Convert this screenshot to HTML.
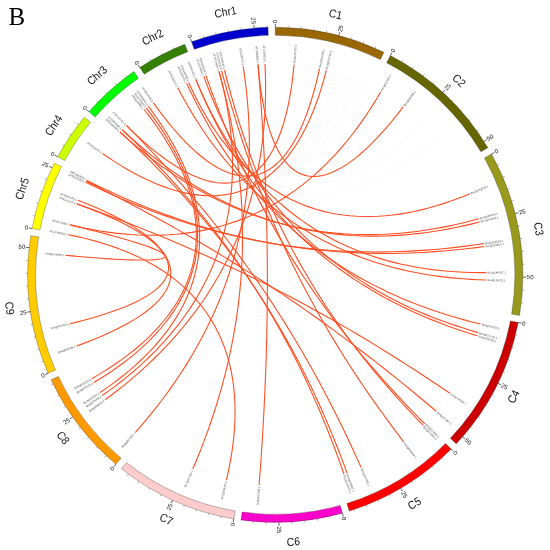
<!DOCTYPE html>
<html lang="en"><head><meta charset="utf-8"><title>Circos synteny B</title>
<style>html,body{margin:0;padding:0;background:#fff}svg{display:block}</style></head>
<body>
<svg width="550" height="550" viewBox="0 0 550 550">
<rect width="550" height="550" fill="#fff"/>
<g fill="none" stroke="#f3f3f3" stroke-width="0.5">
<path d="M335.23 72.49L332.16 82.36L328.82 92.12L325.2 101.7L321.3 111.02L317.12 120L312.67 128.57L307.94 136.67L302.93 144.25L297.67 151.24L292.14 157.61L286.36 163.31L280.33 168.32L274.08 172.59L267.6 176.12L260.92 178.87L254.04 180.84L246.98 182.02L239.76 182.42L232.4 182.02L224.91 180.86L217.32 178.93L209.65 176.27L201.92 172.91L194.15 168.86L186.38 164.18L178.62 158.9L170.91 153.09L163.27 146.78L155.74 140.05L148.35 132.96L141.13 125.58L134.11 118"/>
<path d="M340.5 74.13L337.22 83.82L333.69 93.4L329.91 102.78L325.9 111.86L321.65 120.58L317.17 128.86L312.46 136.64L307.54 143.86L302.4 150.46L297.07 156.4L291.54 161.63L285.84 166.12L279.96 169.85L273.93 172.79L267.75 174.91L261.45 176.22L255.02 176.7L248.5 176.36L241.89 175.2L235.22 173.24L228.49 170.49L221.74 166.98L214.97 162.74L208.22 157.81L201.5 152.24L194.83 146.06L188.24 139.33L181.75 132.12L175.39 124.5L169.17 116.53L163.14 108.29L157.31 99.87"/>
<path d="M345.73 75.9L342.01 85.93L337.97 95.89L333.58 105.7L328.85 115.31L323.78 124.64L318.37 133.65L312.61 142.27L306.52 150.46L300.08 158.18L293.32 165.38L286.23 172.04L278.82 178.11L271.11 183.58L263.11 188.42L254.83 192.61L246.28 196.14L237.49 199.01L228.47 201.2L219.24 202.72L209.83 203.57L200.25 203.76L190.54 203.3L180.72 202.22L170.81 200.53L160.85 198.26L150.88 195.44L140.91 192.11L131 188.3L121.17 184.07L111.46 179.45L101.91 174.51L92.57 169.3"/>
<path d="M350.92 77.81L347.16 87.27L343.19 96.59L339.01 105.68L334.63 114.46L330.06 122.86L325.32 130.79L320.42 138.19L315.36 145L310.16 151.16L304.83 156.64L299.39 161.38L293.84 165.36L288.2 168.54L282.48 170.9L276.69 172.42L270.86 173.1L264.99 172.93L259.09 171.92L253.19 170.07L247.29 167.39L241.42 163.91L235.58 159.66L229.8 154.67L224.08 148.98L218.45 142.64L212.91 135.69L207.5 128.21L202.22 120.24L197.1 111.88L192.14 103.18L187.37 94.25L182.8 85.15"/>
<path d="M356.05 79.86L352.09 89.14L347.96 98.27L343.67 107.17L339.23 115.74L334.67 123.9L329.99 131.58L325.22 138.71L320.36 145.23L315.44 151.09L310.47 156.23L305.46 160.61L300.43 164.2L295.38 166.96L290.34 168.89L285.32 169.95L280.33 170.15L275.37 169.48L270.48 167.93L265.64 165.54L260.89 162.3L256.22 158.24L251.66 153.4L247.2 147.81L242.86 141.51L238.65 134.56L234.59 127L230.67 118.91L226.91 110.34L223.31 101.39L219.89 92.12L216.66 82.63L213.61 73.02"/>
<path d="M361.12 82.04L356.66 91.67L351.89 101.19L346.81 110.54L341.42 119.63L335.72 128.4L329.72 136.8L323.42 144.77L316.84 152.25L309.98 159.22L302.84 165.61L295.45 171.4L287.81 176.57L279.93 181.07L271.84 184.89L263.54 188.01L255.04 190.43L246.38 192.13L237.57 193.12L228.62 193.39L219.56 192.95L210.4 191.82L201.19 190.02L191.93 187.56L182.65 184.47L173.39 180.79L164.16 176.55L155 171.79L145.94 166.56L137.01 160.9L128.24 154.89L119.67 148.57L111.32 142.01"/>
<path d="M337.69 73.24L334.34 83.54L330.64 93.79L326.59 103.94L322.18 113.92L317.4 123.67L312.25 133.14L306.73 142.28L300.83 151.05L294.56 159.4L287.91 167.29L280.9 174.7L273.54 181.59L265.82 187.94L257.76 193.72L249.38 198.91L240.68 203.51L231.69 207.5L222.43 210.88L212.9 213.63L203.14 215.77L193.17 217.3L183.01 218.23L172.7 218.56L162.26 218.33L151.72 217.55L141.12 216.23L130.5 214.42L119.88 212.15L109.31 209.45L98.83 206.35L88.48 202.92L78.31 199.18"/>
<path d="M348.5 76.91L344.95 86.27L341.25 95.49L337.42 104.48L333.48 113.14L329.45 121.39L325.34 129.16L321.16 136.37L316.94 142.95L312.68 148.86L308.41 154.04L304.12 158.45L299.85 162.06L295.59 164.82L291.37 166.73L287.18 167.76L283.06 167.91L278.99 167.17L275 165.54L271.1 163.05L267.28 159.69L263.57 155.51L259.97 150.53L256.49 144.78L253.13 138.32L249.9 131.2L246.81 123.46L243.86 115.18L241.06 106.44L238.42 97.3L235.93 87.85L233.6 78.19L231.43 68.41"/>
<path d="M358.42 80.86L354.21 90.34L349.72 99.69L344.96 108.83L339.95 117.68L334.68 126.17L329.18 134.24L323.43 141.81L317.47 148.84L311.28 155.28L304.9 161.08L298.33 166.2L291.58 170.61L284.66 174.28L277.6 177.2L270.4 179.33L263.08 180.69L255.66 181.25L248.15 181.02L240.57 180.01L232.95 178.22L225.29 175.68L217.63 172.41L209.98 168.44L202.36 163.79L194.79 158.52L187.31 152.66L179.92 146.28L172.66 139.41L165.55 132.13L158.62 124.51L151.89 116.62L145.4 108.53"/>
<path d="M364.47 83.57L360.07 92.74L355.45 101.76L350.65 110.54L345.67 118.99L340.53 127.05L335.25 134.63L329.84 141.67L324.32 148.11L318.7 153.9L313 158.99L307.24 163.34L301.43 166.92L295.58 169.7L289.71 171.65L283.83 172.77L277.96 173.04L272.12 172.46L266.31 171.04L260.55 168.78L254.85 165.7L249.24 161.82L243.71 157.17L238.29 151.79L232.98 145.71L227.8 138.99L222.77 131.68L217.89 123.83L213.18 115.52L208.65 106.82L204.31 97.8L200.18 88.55L196.26 79.16"/>
<path d="M421.87 123.02L414.67 130.3L407.3 137.36L399.8 144.13L392.2 150.53L384.56 156.51L376.9 161.99L369.26 166.91L361.67 171.24L354.17 174.92L346.77 177.92L339.51 180.2L332.41 181.74L325.5 182.52L318.79 182.51L312.3 181.71L306.06 180.12L300.08 177.74L294.36 174.57L288.93 170.64L283.79 165.94L278.96 160.53L274.42 154.41L270.2 147.64L266.29 140.25L262.7 132.29L259.41 123.81L256.44 114.88L253.76 105.55L251.39 95.91L249.3 86.02L247.48 75.97L245.93 65.85"/>
<path d="M436.94 139.17L428.63 145.93L420.08 152.46L411.31 158.7L402.35 164.59L393.23 170.07L383.98 175.09L374.62 179.61L365.19 183.59L355.7 186.99L346.19 189.78L336.67 191.94L327.17 193.43L317.71 194.25L308.32 194.39L299.01 193.83L289.8 192.56L280.72 190.6L271.78 187.95L263 184.61L254.39 180.6L245.97 175.94L237.77 170.66L229.78 164.78L222.03 158.34L214.52 151.38L207.28 143.93L200.3 136.05L193.61 127.78L187.2 119.18L181.09 110.32L175.29 101.26L169.8 92.07"/>
</g>
<g fill="none" stroke="#ff4e22" stroke-width="1.1" stroke-linecap="butt" stroke-linejoin="round">
<path d="M294.06 64.64L293.4 71.41 292.63 78.17 291.74 84.89 290.73 91.54 289.59 98.1 288.32 104.54 286.92 110.85 285.38 116.99 283.69 122.95 281.87 128.71 279.9 134.26 277.79 139.56 275.53 144.62 273.12 149.41 270.57 153.93 267.87 158.15 265.02 162.07 262.02 165.67 258.88 168.96 255.6 171.91 252.18 174.53 248.62 176.81 244.93 178.74 241.1 180.33 237.15 181.56 233.07 182.44 228.88 182.97 224.58 183.15 220.16 182.98 215.65 182.46 211.04 181.61 206.34 180.42 201.56 178.91 196.71 177.08 191.79 174.93 186.82 172.5 181.8 169.77 176.74 166.77 171.65 163.51 166.54 160.01 161.43 156.27 156.31 152.33 151.22 148.19 146.14 143.88 141.11 139.42 136.12 134.82 131.2 130.12 126.36 125.34"/>
<path d="M319.53 68.49L318.06 75.11 316.48 81.71 314.79 88.24 313 94.69 311.1 101.03 309.09 107.24 306.97 113.29 304.74 119.16 302.4 124.83 299.95 130.27 297.39 135.48 294.72 140.43 291.94 145.11 289.06 149.51 286.07 153.6 282.98 157.38 279.79 160.83 276.5 163.96 273.11 166.73 269.63 169.16 266.06 171.24 262.41 172.95 258.66 174.29 254.84 175.27 250.95 175.88 246.98 176.12 242.94 175.99 238.84 175.49 234.69 174.63 230.48 173.41 226.22 171.84 221.93 169.93 217.6 167.67 213.24 165.09 208.86 162.19 204.46 158.98 200.05 155.49 195.65 151.71 191.25 147.67 186.86 143.39 182.5 138.87 178.16 134.15 173.87 129.24 169.62 124.16 165.43 118.94 161.3 113.6 157.25 108.16 153.28 102.66"/>
<path d="M326.35 70.07L324.59 76.84 322.7 83.59 320.66 90.31 318.48 96.96 316.16 103.52 313.69 109.98 311.07 116.31 308.29 122.5 305.37 128.52 302.29 134.36 299.06 140 295.67 145.44 292.14 150.65 288.45 155.62 284.61 160.34 280.62 164.79 276.49 168.98 272.21 172.88 267.78 176.49 263.22 179.81 258.52 182.83 253.69 185.53 248.74 187.93 243.65 190 238.45 191.76 233.14 193.2 227.72 194.32 222.2 195.12 216.58 195.6 210.87 195.77 205.08 195.63 199.21 195.17 193.28 194.42 187.28 193.37 181.24 192.03 175.16 190.41 169.04 188.53 162.9 186.38 156.75 183.98 150.59 181.35 144.45 178.49 138.32 175.43 132.22 172.17 126.16 168.73 120.16 165.13 114.23 161.39 108.37 157.53 102.61 153.56"/>
<path d="M380.64 91.98L376.84 98.44 372.88 104.89 368.78 111.29 364.53 117.64 360.13 123.92 355.59 130.12 350.89 136.23 346.05 142.23 341.06 148.11 335.93 153.86 330.65 159.47 325.23 164.93 319.67 170.23 313.97 175.36 308.14 180.32 302.17 185.09 296.08 189.67 289.85 194.05 283.51 198.23 277.04 202.2 270.46 205.95 263.77 209.49 256.97 212.8 250.07 215.89 243.07 218.75 235.98 221.39 228.8 223.79 221.55 225.96 214.21 227.91 206.81 229.62 199.34 231.1 191.82 232.35 184.25 233.37 176.64 234.18 169 234.76 161.32 235.13 153.63 235.28 145.93 235.23 138.22 234.98 130.53 234.53 122.84 233.9 115.18 233.09 107.56 232.1 99.98 230.95 92.45 229.64 84.98 228.19 77.59 226.61 70.29 224.9"/>
<path d="M403.16 106.96L399.04 112.29 394.84 117.56 390.59 122.73 386.29 127.77 381.95 132.68 377.58 137.41 373.2 141.95 368.81 146.29 364.42 150.39 360.05 154.25 355.69 157.84 351.37 161.15 347.09 164.17 342.85 166.89 338.66 169.28 334.54 171.34 330.48 173.07 326.5 174.45 322.59 175.47 318.77 176.14 315.04 176.44 311.41 176.38 307.87 175.95 304.44 175.14 301.12 173.97 297.91 172.43 294.81 170.53 291.83 168.26 288.97 165.64 286.24 162.68 283.62 159.37 281.13 155.73 278.77 151.77 276.54 147.49 274.43 142.93 272.44 138.07 270.59 132.95 268.86 127.58 267.25 121.98 265.76 116.16 264.4 110.14 263.16 103.95 262.03 97.61 261.01 91.14 260.11 84.57 259.31 77.92 258.61 71.23 258.01 64.51"/>
<path d="M470.1 193.71L463.34 196.45 456.5 199.06 449.57 201.55 442.56 203.88 435.5 206.05 428.4 208.05 421.25 209.86 414.08 211.48 406.89 212.89 399.69 214.09 392.49 215.06 385.31 215.8 378.15 216.31 371.01 216.56 363.92 216.57 356.87 216.32 349.87 215.81 342.93 215.03 336.07 213.99 329.28 212.69 322.57 211.11 315.94 209.26 309.42 207.14 302.99 204.76 296.67 202.1 290.46 199.18 284.36 196 278.39 192.57 272.54 188.88 266.82 184.94 261.23 180.76 255.77 176.35 250.46 171.72 245.28 166.86 240.25 161.79 235.37 156.53 230.63 151.08 226.05 145.45 221.61 139.65 217.33 133.71 213.21 127.62 209.23 121.41 205.41 115.09 201.74 108.68 198.23 102.19 194.87 95.64 191.66 89.05 188.6 82.43"/>
<path d="M478.72 218.77L471.23 220.77 463.64 222.67 455.97 224.46 448.23 226.13 440.42 227.66 432.54 229.07 424.61 230.33 416.63 231.44 408.61 232.39 400.55 233.18 392.47 233.81 384.36 234.27 376.23 234.54 368.09 234.64 359.94 234.56 351.8 234.29 343.66 233.83 335.53 233.17 327.42 232.33 319.34 231.29 311.27 230.06 303.25 228.63 295.25 227 287.3 225.18 279.4 223.17 271.55 220.96 263.76 218.56 256.02 215.97 248.35 213.2 240.75 210.24 233.23 207.11 225.78 203.8 218.41 200.32 211.13 196.67 203.93 192.86 196.83 188.9 189.83 184.79 182.92 180.53 176.12 176.15 169.42 171.63 162.83 167 156.35 162.25 149.99 157.4 143.74 152.46 137.62 147.44 131.61 142.34 125.73 137.19 119.98 131.98"/>
<path d="M479.58 221.97L472.05 223.86 464.44 225.64 456.74 227.3 448.97 228.85 441.13 230.27 433.23 231.54 425.28 232.68 417.29 233.67 409.25 234.5 401.18 235.16 393.09 235.66 384.97 235.99 376.84 236.14 368.69 236.12 360.55 235.91 352.41 235.51 344.28 234.92 336.16 234.15 328.06 233.18 319.99 232.01 311.95 230.65 303.94 229.1 295.97 227.35 288.05 225.41 280.18 223.28 272.36 220.95 264.6 218.43 256.91 215.73 249.28 212.84 241.72 209.77 234.24 206.52 226.84 203.09 219.53 199.5 212.3 195.74 205.16 191.83 198.12 187.76 191.18 183.54 184.33 179.18 177.6 174.69 170.96 170.08 164.44 165.34 158.04 160.5 151.75 155.56 145.57 150.53 139.52 145.41 133.6 140.23 127.79 134.98 122.12 129.69"/>
<path d="M483.98 243.61L475.9 244.78 467.75 245.88 459.54 246.89 451.28 247.83 442.96 248.68 434.6 249.44 426.19 250.1 417.73 250.67 409.25 251.14 400.73 251.5 392.17 251.76 383.6 251.91 375 251.95 366.38 251.88 357.75 251.7 349.1 251.39 340.45 250.97 331.79 250.43 323.13 249.77 314.48 248.99 305.83 248.09 297.18 247.07 288.55 245.93 279.94 244.67 271.34 243.28 262.77 241.78 254.22 240.15 245.7 238.41 237.21 236.55 228.75 234.57 220.33 232.48 211.95 230.28 203.62 227.97 195.33 225.56 187.09 223.03 178.9 220.41 170.76 217.68 162.69 214.87 154.67 211.96 146.71 208.96 138.83 205.87 131 202.71 123.25 199.47 115.58 196.16 107.98 192.78 100.45 189.34 93.01 185.85 85.65 182.3"/>
<path d="M484.4 246.53L476.29 247.58 468.13 248.57 459.9 249.47 451.62 250.29 443.29 251.03 434.92 251.67 426.49 252.22 418.03 252.68 409.54 253.03 401.01 253.29 392.45 253.43 383.87 253.47 375.27 253.4 366.65 253.21 358.02 252.91 349.38 252.5 340.73 251.97 332.07 251.32 323.42 250.55 314.77 249.66 306.13 248.65 297.5 247.52 288.88 246.27 280.28 244.9 271.7 243.41 263.14 241.8 254.6 240.07 246.1 238.23 237.63 236.27 229.2 234.19 220.8 232 212.44 229.71 204.13 227.3 195.87 224.79 187.65 222.17 179.49 219.45 171.39 216.64 163.34 213.73 155.35 210.73 147.43 207.64 139.57 204.47 131.78 201.22 124.06 197.89 116.42 194.5 108.85 191.04 101.37 187.52 93.96 183.95 86.63 180.32"/>
<path d="M486.29 272.59L478.7 272.6 471.06 272.48 463.37 272.22 455.64 271.81 447.9 271.23 440.13 270.5 432.37 269.6 424.62 268.52 416.88 267.26 409.16 265.82 401.49 264.19 393.85 262.37 386.27 260.35 378.75 258.14 371.3 255.73 363.93 253.12 356.63 250.31 349.43 247.3 342.32 244.08 335.32 240.66 328.42 237.04 321.64 233.23 314.97 229.21 308.43 225 302.02 220.59 295.74 216 289.6 211.22 283.6 206.25 277.74 201.11 272.02 195.8 266.46 190.32 261.05 184.68 255.79 178.89 250.69 172.94 245.74 166.86 240.96 160.65 236.33 154.31 231.86 147.86 227.55 141.3 223.4 134.65 219.41 127.92 215.58 121.11 211.9 114.23 208.38 107.31 205.01 100.34 201.8 93.35 198.73 86.35 195.81 79.34"/>
<path d="M486.24 279.96L478.53 279.71 470.77 279.33 462.97 278.81 455.13 278.16 447.26 277.35 439.38 276.4 431.49 275.28 423.6 274 415.72 272.56 407.86 270.94 400.02 269.15 392.22 267.19 384.46 265.04 376.74 262.71 369.09 260.2 361.49 257.51 353.96 254.62 346.51 251.56 339.14 248.3 331.85 244.86 324.66 241.24 317.56 237.43 310.56 233.44 303.67 229.27 296.89 224.92 290.23 220.4 283.68 215.71 277.26 210.84 270.96 205.82 264.79 200.63 258.76 195.29 252.85 189.81 247.09 184.17 241.46 178.41 235.97 172.51 230.62 166.49 225.42 160.35 220.36 154.1 215.45 147.76 210.68 141.32 206.06 134.8 201.58 128.21 197.25 121.55 193.06 114.84 189.02 108.09 185.12 101.31 181.36 94.51 177.74 87.71"/>
<path d="M480.47 324.06L472.83 322.17 465.17 320.15 457.48 318.01 449.77 315.73 442.06 313.32 434.36 310.77 426.66 308.08 418.99 305.25 411.34 302.27 403.73 299.14 396.15 295.86 388.63 292.43 381.16 288.85 373.74 285.12 366.4 281.24 359.13 277.21 351.94 273.02 344.82 268.68 337.8 264.19 330.87 259.55 324.04 254.77 317.32 249.83 310.69 244.76 304.18 239.54 297.78 234.18 291.5 228.69 285.34 223.06 279.3 217.31 273.39 211.43 267.61 205.43 261.95 199.32 256.43 193.09 251.04 186.75 245.79 180.32 240.67 173.79 235.69 167.17 230.85 160.46 226.14 153.68 221.57 146.84 217.15 139.92 212.86 132.96 208.7 125.94 204.68 118.89 200.8 111.81 197.05 104.7 193.44 97.59 189.95 90.47 186.6 83.35"/>
<path d="M478.23 332.61L470.72 330.41 463.19 328.08 455.64 325.62 448.09 323.02 440.54 320.28 433 317.4 425.49 314.38 418 311.2 410.55 307.88 403.15 304.41 395.8 300.78 388.51 297.01 381.29 293.07 374.14 288.99 367.07 284.75 360.09 280.36 353.2 275.81 346.4 271.11 339.71 266.26 333.13 261.27 326.66 256.12 320.31 250.83 314.07 245.39 307.97 239.82 301.99 234.11 296.14 228.26 290.43 222.28 284.85 216.18 279.41 209.95 274.12 203.61 268.97 197.16 263.96 190.59 259.1 183.93 254.39 177.16 249.82 170.31 245.41 163.37 241.14 156.36 237.02 149.27 233.05 142.12 229.23 134.92 225.55 127.67 222.02 120.38 218.63 113.06 215.38 105.71 212.27 98.35 209.3 90.99 206.46 83.64 203.76 76.3"/>
<path d="M477.29 335.79L469.77 333.46 462.22 331 454.66 328.42 447.09 325.71 439.52 322.86 431.96 319.87 424.42 316.74 416.91 313.48 409.43 310.07 401.99 306.51 394.6 302.81 387.27 298.96 380 294.97 372.79 290.83 365.66 286.54 358.61 282.11 351.64 277.52 344.77 272.8 337.98 267.93 331.3 262.91 324.73 257.76 318.26 252.47 311.9 247.04 305.66 241.47 299.54 235.78 293.55 229.95 287.68 224 281.93 217.93 276.32 211.75 270.84 205.45 265.5 199.04 260.29 192.53 255.22 185.92 250.28 179.22 245.49 172.43 240.84 165.56 236.33 158.62 231.96 151.6 227.73 144.53 223.64 137.4 219.69 130.22 215.87 123 212.2 115.76 208.66 108.49 205.25 101.2 201.98 93.91 198.83 86.62 195.81 79.34"/>
<path d="M449.92 393.25L442.85 388.47 435.74 383.71 428.58 378.97 421.38 374.24 414.14 369.54 406.86 364.85 399.54 360.19 392.17 355.56 384.77 350.95 377.33 346.37 369.85 341.82 362.33 337.31 354.78 332.83 347.19 328.38 339.56 323.97 331.91 319.6 324.22 315.26 316.49 310.97 308.74 306.72 300.96 302.51 293.15 298.34 285.31 294.22 277.45 290.14 269.56 286.11 261.65 282.12 253.72 278.19 245.76 274.3 237.79 270.45 229.79 266.66 221.78 262.91 213.76 259.21 205.72 255.57 197.67 251.97 189.61 248.42 181.54 244.92 173.46 241.47 165.38 238.07 157.29 234.72 149.2 231.42 141.11 228.16 133.03 224.95 124.94 221.8 116.86 218.68 108.79 215.62 100.72 212.6 92.67 209.63 84.63 206.7 76.6 203.81"/>
<path d="M436.22 411.27L429.7 405.76 423.13 400.26 416.52 394.77 409.87 389.29 403.18 383.83 396.44 378.38 389.66 372.96 382.84 367.55 375.97 362.16 369.07 356.8 362.13 351.46 355.14 346.16 348.12 340.87 341.06 335.62 333.97 330.4 326.84 325.22 319.67 320.06 312.47 314.95 305.23 309.86 297.96 304.82 290.66 299.81 283.33 294.85 275.97 289.92 268.57 285.04 261.16 280.2 253.71 275.4 246.24 270.64 238.75 265.93 231.23 261.26 223.7 256.63 216.14 252.06 208.56 247.53 200.97 243.04 193.36 238.6 185.74 234.21 178.1 229.86 170.46 225.56 162.8 221.31 155.14 217.1 147.47 212.94 139.8 208.83 132.13 204.76 124.45 200.74 116.78 196.77 109.11 192.84 101.44 188.95 93.79 185.11 86.14 181.31"/>
<path d="M424.76 423.74L418.89 417.84 413.03 411.87 407.18 405.82 401.36 399.7 395.56 393.5 389.8 387.23 384.06 380.88 378.36 374.46 372.71 367.97 367.09 361.4 361.52 354.77 356.01 348.06 350.54 341.29 345.13 334.45 339.78 327.54 334.49 320.57 329.26 313.54 324.1 306.44 319.01 299.28 313.99 292.07 309.03 284.79 304.16 277.47 299.35 270.09 294.63 262.65 289.98 255.17 285.41 247.64 280.92 240.07 276.52 232.45 272.19 224.8 267.95 217.1 263.8 209.38 259.72 201.62 255.74 193.83 251.83 186.01 248.01 178.17 244.28 170.31 240.63 162.43 237.07 154.53 233.59 146.63 230.19 138.71 226.88 130.8 223.65 122.88 220.49 114.96 217.42 107.05 214.43 99.15 211.51 91.26 208.67 83.39 205.91 75.54"/>
<path d="M423.19 425.3L417.44 419.4 411.71 413.41 406 407.33 400.32 401.17 394.68 394.93 389.07 388.6 383.5 382.19 377.98 375.69 372.51 369.12 367.09 362.46 361.73 355.72 356.44 348.91 351.21 342.02 346.05 335.05 340.96 328.01 335.95 320.9 331.01 313.71 326.16 306.46 321.39 299.14 316.7 291.76 312.1 284.31 307.6 276.81 303.18 269.25 298.86 261.63 294.63 253.95 290.5 246.23 286.46 238.46 282.53 230.65 278.69 222.79 274.95 214.89 271.31 206.96 267.78 199 264.34 191 261.01 182.98 257.77 174.94 254.64 166.87 251.61 158.79 248.67 150.7 245.83 142.6 243.09 134.5 240.45 126.39 237.9 118.29 235.45 110.2 233.08 102.12 230.81 94.05 228.62 86.01 226.52 77.99 224.5 70.01"/>
<path d="M403.89 442.09L398.81 435.43 393.74 428.7 388.7 421.91 383.69 415.05 378.7 408.13 373.75 401.15 368.83 394.1 363.96 387 359.12 379.83 354.33 372.6 349.59 365.32 344.9 357.98 340.26 350.58 335.68 343.13 331.15 335.62 326.69 328.07 322.28 320.46 317.94 312.8 313.67 305.1 309.46 297.36 305.32 289.57 301.25 281.74 297.25 273.86 293.32 265.95 289.47 258.01 285.68 250.03 281.98 242.02 278.35 233.98 274.79 225.91 271.32 217.82 267.92 209.7 264.59 201.57 261.35 193.41 258.18 185.24 255.09 177.06 252.07 168.86 249.13 160.66 246.27 152.45 243.48 144.25 240.77 136.04 238.13 127.83 235.56 119.63 233.06 111.44 230.64 103.27 228.28 95.1 225.99 86.96 223.77 78.84 221.61 70.74"/>
<path d="M361.12 467.56L357.68 459.88 354.17 452.19 350.6 444.49 346.96 436.78 343.26 429.07 339.5 421.36 335.66 413.64 331.76 405.93 327.8 398.23 323.76 390.54 319.66 382.86 315.48 375.19 311.24 367.54 306.93 359.91 302.55 352.3 298.11 344.72 293.59 337.16 289.01 329.64 284.37 322.14 279.65 314.68 274.87 307.25 270.03 299.86 265.12 292.51 260.15 285.19 255.12 277.92 250.02 270.7 244.87 263.52 239.66 256.38 234.4 249.3 229.08 242.26 223.7 235.28 218.28 228.35 212.8 221.47 207.28 214.65 201.72 207.88 196.11 201.17 190.46 194.52 184.77 187.92 179.04 181.39 173.29 174.91 167.5 168.5 161.68 162.15 155.84 155.86 149.98 149.63 144.09 143.46 138.19 137.36 132.28 131.32 126.36 125.34"/>
<path d="M347.12 473.2L344.27 465.41 341.34 457.61 338.32 449.78 335.23 441.94 332.05 434.1 328.79 426.25 325.45 418.4 322.02 410.55 318.5 402.71 314.89 394.88 311.19 387.07 307.41 379.27 303.54 371.5 299.57 363.75 295.52 356.02 291.38 348.33 287.15 340.67 282.83 333.05 278.43 325.47 273.93 317.93 269.36 310.43 264.69 302.98 259.94 295.59 255.11 288.24 250.2 280.95 245.2 273.71 240.13 266.53 234.98 259.42 229.76 252.36 224.47 245.37 219.1 238.45 213.67 231.59 208.17 224.8 202.61 218.08 196.99 211.43 191.31 204.86 185.58 198.36 179.8 191.94 173.97 185.59 168.09 179.32 162.18 173.12 156.23 167.01 150.24 160.97 144.23 155.01 138.19 149.13 132.14 143.33 126.07 137.62 119.98 131.98"/>
<path d="M343.99 474.3L341.26 466.47 338.46 458.62 335.57 450.75 332.6 442.87 329.54 434.97 326.41 427.08 323.18 419.17 319.88 411.28 316.48 403.38 312.99 395.5 309.42 387.63 305.76 379.78 302.01 371.94 298.16 364.13 294.23 356.35 290.21 348.59 286.1 340.87 281.9 333.18 277.61 325.53 273.24 317.93 268.77 310.36 264.22 302.84 259.59 295.37 254.87 287.95 250.07 280.59 245.19 273.28 240.23 266.02 235.19 258.83 230.07 251.7 224.88 244.63 219.62 237.62 214.3 230.68 208.9 223.81 203.44 217.01 197.92 210.28 192.34 203.62 186.71 197.04 181.03 190.53 175.29 184.09 169.51 177.73 163.69 171.45 157.83 165.25 151.94 159.12 146.02 153.08 140.07 147.11 134.1 141.22 128.12 135.42 122.12 129.69"/>
<path d="M259.11 485.18L259.76 476.58 260.39 467.95 261 459.31 261.59 450.65 262.15 441.97 262.68 433.27 263.19 424.56 263.68 415.83 264.13 407.08 264.56 398.33 264.96 389.56 265.33 380.78 265.67 371.98 265.99 363.18 266.27 354.37 266.52 345.55 266.74 336.73 266.92 327.89 267.08 319.06 267.2 310.22 267.29 301.37 267.35 292.52 267.38 283.67 267.37 274.82 267.33 265.97 267.26 257.12 267.15 248.27 267.02 239.43 266.85 230.59 266.65 221.75 266.41 212.92 266.15 204.09 265.85 195.28 265.52 186.47 265.17 177.67 264.78 168.88 264.36 160.1 263.91 151.33 263.44 142.58 262.94 133.84 262.41 125.11 261.85 116.4 261.27 107.7 260.66 99.03 260.03 90.37 259.38 81.73 258.71 73.11 258.01 64.51"/>
<path d="M226.4 480.06L228.01 473.01 229.48 465.89 230.81 458.71 231.97 451.5 232.97 444.26 233.78 437.01 234.41 429.76 234.83 422.52 235.05 415.31 235.04 408.13 234.82 401.01 234.36 393.94 233.67 386.95 232.73 380.04 231.55 373.21 230.12 366.49 228.44 359.87 226.5 353.38 224.31 347 221.86 340.76 219.16 334.65 216.2 328.69 212.98 322.88 209.51 317.23 205.79 311.74 201.83 306.41 197.62 301.26 193.17 296.27 188.5 291.47 183.59 286.84 178.47 282.4 173.14 278.14 167.6 274.06 161.88 270.17 155.96 266.47 149.88 262.95 143.63 259.62 137.23 256.48 130.7 253.52 124.04 250.74 117.27 248.14 110.41 245.71 103.47 243.46 96.46 241.39 89.41 239.47 82.33 237.72 75.23 236.13 68.15 234.68"/>
<path d="M192.86 469.03L195.98 461.56 199.04 454 202.04 446.36 204.96 438.64 207.8 430.85 210.56 422.98 213.23 415.04 215.81 407.03 218.28 398.96 220.66 390.83 222.93 382.65 225.08 374.41 227.13 366.12 229.05 357.78 230.86 349.4 232.54 340.97 234.1 332.52 235.53 324.03 236.83 315.5 238 306.96 239.04 298.38 239.95 289.79 240.71 281.19 241.35 272.57 241.85 263.94 242.21 255.31 242.44 246.67 242.53 238.04 242.49 229.41 242.32 220.79 242.01 212.19 241.57 203.6 241 195.03 240.31 186.48 239.49 177.97 238.55 169.48 237.49 161.03 236.31 152.61 235.02 144.24 233.62 135.92 232.12 127.64 230.51 119.42 228.8 111.26 227.01 103.16 225.12 95.13 223.15 87.16 221.1 79.27 218.98 71.45"/>
<path d="M135.21 432.59L140.41 426.65 145.56 420.6 150.66 414.43 155.7 408.14 160.66 401.74 165.55 395.23 170.35 388.62 175.05 381.89 179.66 375.06 184.15 368.14 188.53 361.11 192.78 353.99 196.91 346.77 200.91 339.47 204.77 332.08 208.48 324.6 212.05 317.05 215.47 309.42 218.74 301.71 221.84 293.94 224.79 286.1 227.57 278.2 230.19 270.24 232.65 262.23 234.93 254.17 237.04 246.06 238.99 237.91 240.77 229.73 242.37 221.51 243.8 213.27 245.07 205 246.17 196.72 247.1 188.43 247.87 180.12 248.47 171.82 248.91 163.52 249.2 155.23 249.33 146.95 249.31 138.69 249.15 130.46 248.84 122.26 248.4 114.1 247.82 105.98 247.12 97.91 246.3 89.9 245.36 81.95 244.31 74.07 243.17 66.26"/>
<path d="M105.25 399.71L111.49 395.06 117.7 390.27 123.88 385.35 130.02 380.3 136.1 375.11 142.11 369.79 148.05 364.34 153.9 358.77 159.66 353.06 165.32 347.22 170.88 341.26 176.31 335.18 181.63 328.98 186.81 322.65 191.86 316.21 196.77 309.65 201.53 302.98 206.14 296.2 210.59 289.31 214.88 282.33 219 275.24 222.96 268.05 226.75 260.78 230.36 253.41 233.8 245.97 237.06 238.44 240.14 230.84 243.03 223.16 245.75 215.43 248.29 207.63 250.64 199.78 252.82 191.88 254.81 183.93 256.63 175.95 258.27 167.94 259.73 159.9 261.02 151.85 262.15 143.78 263.1 135.71 263.9 127.63 264.53 119.57 265.02 111.53 265.35 103.51 265.54 95.52 265.6 87.57 265.52 79.67 265.31 71.83 264.99 64.05"/>
<path d="M102.25 395.52L108.4 391.15 114.53 386.63 120.6 381.96 126.61 377.16 132.55 372.21 138.4 367.12 144.15 361.89 149.78 356.52 155.3 351.02 160.67 345.38 165.91 339.61 170.99 333.71 175.91 327.69 180.66 321.54 185.24 315.26 189.62 308.87 193.82 302.37 197.82 295.75 201.62 289.03 205.2 282.2 208.58 275.28 211.74 268.25 214.68 261.14 217.4 253.94 219.9 246.67 222.17 239.31 224.21 231.89 226.03 224.4 227.62 216.85 228.98 209.25 230.12 201.6 231.03 193.92 231.73 186.2 232.21 178.45 232.47 170.68 232.52 162.9 232.37 155.12 232.01 147.34 231.47 139.56 230.73 131.81 229.81 124.08 228.72 116.39 227.46 108.74 226.04 101.14 224.47 93.6 222.77 86.14 220.94 78.75 218.98 71.45"/>
<path d="M100.17 392.48L106.12 388.4 112.02 384.17 117.85 379.8 123.59 375.3 129.23 370.66 134.73 365.89 140.09 361 145.3 355.97 150.33 350.83 155.18 345.57 159.83 340.19 164.26 334.7 168.47 329.11 172.45 323.41 176.19 317.61 179.67 311.72 182.89 305.73 185.84 299.67 188.52 293.52 190.92 287.29 193.03 281 194.86 274.63 196.4 268.21 197.64 261.73 198.58 255.21 199.24 248.64 199.59 242.03 199.65 235.38 199.42 228.72 198.9 222.03 198.1 215.33 197.01 208.62 195.65 201.92 194.02 195.22 192.12 188.53 189.98 181.86 187.58 175.23 184.95 168.62 182.09 162.07 179.02 155.56 175.74 149.11 172.28 142.72 168.64 136.42 164.83 130.19 160.88 124.06 156.8 118.02 152.61 112.1 148.32 106.29"/>
<path d="M93.87 382.52L100 378.8 106.08 374.94 112.09 370.94 118.02 366.8 123.84 362.53 129.53 358.12 135.09 353.58 140.48 348.91 145.7 344.11 150.73 339.2 155.56 334.16 160.18 329 164.56 323.74 168.71 318.36 172.61 312.88 176.25 307.3 179.63 301.62 182.73 295.85 185.55 289.99 188.08 284.05 190.33 278.03 192.27 271.93 193.92 265.77 195.26 259.54 196.3 253.25 197.04 246.92 197.47 240.53 197.61 234.11 197.44 227.65 196.97 221.16 196.21 214.66 195.16 208.13 193.83 201.6 192.22 195.07 190.34 188.55 188.2 182.04 185.8 175.55 183.17 169.09 180.3 162.66 177.21 156.28 173.91 149.96 170.42 143.69 166.74 137.5 162.91 131.38 158.92 125.35 154.8 119.42 150.57 113.59 146.24 107.87"/>
<path d="M91.65 378.7L97.84 375.12 103.97 371.4 110.05 367.55 116.03 363.55 121.91 359.42 127.66 355.15 133.27 350.75 138.72 346.23 143.99 341.57 149.08 336.79 153.96 331.9 158.62 326.88 163.06 321.75 167.25 316.52 171.19 311.17 174.87 305.72 178.28 300.17 181.41 294.53 184.25 288.8 186.81 282.98 189.07 277.09 191.03 271.11 192.69 265.07 194.04 258.96 195.08 252.79 195.81 246.57 196.24 240.29 196.36 233.98 196.18 227.63 195.69 221.25 194.91 214.84 193.83 208.42 192.47 201.99 190.83 195.56 188.91 189.13 186.73 182.71 184.29 176.31 181.6 169.94 178.69 163.6 175.54 157.31 172.19 151.06 168.65 144.88 164.92 138.77 161.02 132.73 156.98 126.78 152.8 120.92 148.51 115.17 144.12 109.53"/>
<path d="M76.65 345.93L82.97 343.61 89.25 341.22 95.45 338.74 101.55 336.18 107.52 333.54 113.34 330.84 118.98 328.06 124.43 325.23 129.65 322.33 134.62 319.37 139.34 316.36 143.78 313.29 147.93 310.19 151.77 307.03 155.29 303.84 158.47 300.61 161.31 297.35 163.79 294.06 165.91 290.74 167.66 287.41 169.03 284.05 170.02 280.68 170.63 277.3 170.85 273.92 170.69 270.53 170.14 267.14 169.2 263.75 167.89 260.37 166.2 257.01 164.13 253.65 161.71 250.32 158.92 247.01 155.8 243.73 152.33 240.48 148.55 237.26 144.45 234.08 140.07 230.95 135.4 227.86 130.47 224.82 125.3 221.83 119.91 218.9 114.32 216.03 108.54 213.22 102.62 210.49 96.56 207.83 90.4 205.24 84.16 202.74 77.88 200.32"/>
<path d="M70.04 323.7L76.54 322.11 82.99 320.45 89.38 318.72 95.67 316.91 101.84 315.04 107.85 313.1 113.69 311.09 119.33 309.02 124.75 306.89 129.93 304.7 134.85 302.44 139.48 300.14 143.82 297.78 147.85 295.36 151.55 292.9 154.92 290.39 157.93 287.84 160.58 285.25 162.86 282.61 164.77 279.94 166.29 277.24 167.43 274.51 168.17 271.75 168.52 268.96 168.48 266.15 168.04 263.33 167.21 260.49 165.99 257.63 164.39 254.77 162.4 251.91 160.05 249.04 157.33 246.17 154.26 243.31 150.85 240.46 147.11 237.63 143.05 234.81 138.7 232.01 134.06 229.23 129.15 226.49 123.99 223.78 118.61 221.1 113.03 218.47 107.26 215.88 101.34 213.35 95.28 210.87 89.12 208.45 82.88 206.1 76.6 203.81"/>
<path d="M65.2 255.31L71.77 255.91 78.31 256.48 84.78 257.03 91.16 257.54 97.42 258.02 103.53 258.45 109.47 258.84 115.21 259.18 120.72 259.47 125.99 259.71 130.99 259.89 135.71 260.01 140.12 260.07 144.22 260.07 147.98 260.01 151.4 259.88 154.45 259.68 157.14 259.41 159.45 259.08 161.37 258.68 162.89 258.2 164.02 257.66 164.75 257.05 165.07 256.37 164.99 255.63 164.5 254.81 163.61 253.94 162.32 252.99 160.63 251.99 158.56 250.92 156.11 249.8 153.28 248.62 150.09 247.38 146.55 246.09 142.68 244.76 138.49 243.38 133.99 241.97 129.2 240.51 124.14 239.02 118.83 237.5 113.29 235.96 107.55 234.4 101.63 232.82 95.56 231.23 89.36 229.64 83.06 228.05 76.69 226.47 70.29 224.9"/>
</g>
<path d="M275.3 27.2A247.6 247.6 0 0 1 383.88 52.28L380.37 59.47A239.6 239.6 0 0 0 275.3 35.2Z" fill="#996600" stroke="#222" stroke-opacity="0.6" stroke-width="0.5"/>
<path d="M390.37 55.56A247.6 247.6 0 0 1 487.82 147.76L480.96 151.86A239.6 239.6 0 0 0 386.65 62.65Z" fill="#666600" stroke="#222" stroke-opacity="0.6" stroke-width="0.5"/>
<path d="M491.46 154.05A247.6 247.6 0 0 1 519.55 315.39L511.66 314.08A239.6 239.6 0 0 0 484.48 157.95Z" fill="#99991E" stroke="#222" stroke-opacity="0.6" stroke-width="0.5"/>
<path d="M518.25 322.54A247.6 247.6 0 0 1 456.24 443.82L450.39 438.36A239.6 239.6 0 0 0 510.4 321Z" fill="#CC0000" stroke="#222" stroke-opacity="0.6" stroke-width="0.5"/>
<path d="M451.2 449.06A247.6 247.6 0 0 1 349.31 511.08L346.92 503.45A239.6 239.6 0 0 0 445.52 443.43Z" fill="#FF0000" stroke="#222" stroke-opacity="0.6" stroke-width="0.5"/>
<path d="M342.34 513.15A247.6 247.6 0 0 1 241.02 520.02L242.13 512.09A239.6 239.6 0 0 0 340.18 505.45Z" fill="#FF00CC" stroke="#222" stroke-opacity="0.6" stroke-width="0.5"/>
<path d="M233.83 518.9A247.6 247.6 0 0 1 121.53 468.87L126.5 462.59A239.6 239.6 0 0 0 235.17 511.02Z" fill="#FFCCCC" stroke="#222" stroke-opacity="0.6" stroke-width="0.5"/>
<path d="M115.9 464.27A247.6 247.6 0 0 1 51.09 379.85L58.33 376.46A239.6 239.6 0 0 0 121.05 458.15Z" fill="#FF9900" stroke="#222" stroke-opacity="0.6" stroke-width="0.5"/>
<path d="M48.1 373.22A247.6 247.6 0 0 1 30.8 235.73L38.7 236.99A239.6 239.6 0 0 0 55.44 370.04Z" fill="#FFCC00" stroke="#222" stroke-opacity="0.6" stroke-width="0.5"/>
<path d="M32.05 228.57A247.6 247.6 0 0 1 54.29 163.17L61.43 166.78A239.6 239.6 0 0 0 39.91 230.06Z" fill="#FFFF00" stroke="#222" stroke-opacity="0.6" stroke-width="0.5"/>
<path d="M57.66 156.73A247.6 247.6 0 0 1 84.33 117.21L90.5 122.3A239.6 239.6 0 0 0 64.7 160.55Z" fill="#CCFF00" stroke="#222" stroke-opacity="0.6" stroke-width="0.5"/>
<path d="M89.04 111.67A247.6 247.6 0 0 1 133.84 71.59L138.41 78.16A239.6 239.6 0 0 0 95.05 116.94Z" fill="#00FF00" stroke="#222" stroke-opacity="0.6" stroke-width="0.5"/>
<path d="M139.86 67.53A247.6 247.6 0 0 1 184.75 44.35L187.67 51.8A239.6 239.6 0 0 0 144.24 74.22Z" fill="#358000" stroke="#222" stroke-opacity="0.6" stroke-width="0.5"/>
<path d="M191.55 41.79A247.6 247.6 0 0 1 268.03 27.31L268.27 35.3A239.6 239.6 0 0 0 194.26 49.32Z" fill="#0000CC" stroke="#222" stroke-opacity="0.6" stroke-width="0.5"/>
<g stroke="#222" stroke-width="0.45">
<path d="M275.3 27.2L275.3 23.8" stroke-width="0.7"/>
<path d="M288.14 27.53L288.24 25.54" stroke-opacity="0.8"/>
<path d="M300.94 28.53L301.15 26.54" stroke-opacity="0.8"/>
<path d="M313.67 30.19L313.98 28.22" stroke-opacity="0.8"/>
<path d="M326.3 32.51L326.72 30.55" stroke-opacity="0.8"/>
<path d="M338.8 35.48L339.67 32.19" stroke-width="0.7"/>
<path d="M351.12 39.09L351.73 37.19" stroke-opacity="0.8"/>
<path d="M363.24 43.34L363.95 41.47" stroke-opacity="0.8"/>
<path d="M375.12 48.21L375.93 46.38" stroke-opacity="0.8"/>
<path d="M390.37 55.56L391.95 52.55" stroke-width="0.7"/>
<path d="M401.58 61.82L402.6 60.1" stroke-opacity="0.8"/>
<path d="M412.45 68.66L413.56 66.99" stroke-opacity="0.8"/>
<path d="M422.96 76.04L424.15 74.44" stroke-opacity="0.8"/>
<path d="M433.06 83.97L434.34 82.43" stroke-opacity="0.8"/>
<path d="M442.74 92.4L445.04 89.9" stroke-width="0.7"/>
<path d="M451.97 101.33L453.4 99.93" stroke-opacity="0.8"/>
<path d="M460.73 110.72L462.23 109.4" stroke-opacity="0.8"/>
<path d="M468.99 120.56L470.55 119.31" stroke-opacity="0.8"/>
<path d="M476.73 130.81L478.35 129.64" stroke-opacity="0.8"/>
<path d="M483.92 141.45L486.78 139.61" stroke-width="0.7"/>
<path d="M491.46 154.05L494.43 152.39" stroke-width="0.7"/>
<path d="M497.43 165.42L499.23 164.54" stroke-opacity="0.8"/>
<path d="M502.8 177.09L504.64 176.3" stroke-opacity="0.8"/>
<path d="M507.56 189.01L509.44 188.32" stroke-opacity="0.8"/>
<path d="M511.7 201.17L513.61 200.58" stroke-opacity="0.8"/>
<path d="M515.2 213.53L518.49 212.68" stroke-width="0.7"/>
<path d="M518.05 226.05L520.01 225.65" stroke-opacity="0.8"/>
<path d="M520.25 238.7L522.23 238.41" stroke-opacity="0.8"/>
<path d="M521.8 251.45L523.79 251.26" stroke-opacity="0.8"/>
<path d="M522.68 264.26L524.67 264.17" stroke-opacity="0.8"/>
<path d="M522.89 277.1L526.29 277.13" stroke-width="0.7"/>
<path d="M522.44 289.93L524.43 290.05" stroke-opacity="0.8"/>
<path d="M521.32 302.72L523.31 302.95" stroke-opacity="0.8"/>
<path d="M518.25 322.54L521.59 323.2" stroke-width="0.7"/>
<path d="M515.45 335.08L517.39 335.56" stroke-opacity="0.8"/>
<path d="M512 347.45L513.91 348.03" stroke-opacity="0.8"/>
<path d="M507.92 359.62L509.8 360.31" stroke-opacity="0.8"/>
<path d="M503.21 371.57L505.05 372.35" stroke-opacity="0.8"/>
<path d="M497.88 383.25L500.94 384.74" stroke-width="0.7"/>
<path d="M491.96 394.65L493.71 395.62" stroke-opacity="0.8"/>
<path d="M485.46 405.72L487.15 406.78" stroke-opacity="0.8"/>
<path d="M478.39 416.44L480.03 417.58" stroke-opacity="0.8"/>
<path d="M470.77 426.78L472.35 428.01" stroke-opacity="0.8"/>
<path d="M462.63 436.71L465.2 438.93" stroke-width="0.7"/>
<path d="M451.2 449.06L453.62 451.45" stroke-width="0.7"/>
<path d="M441.93 457.94L443.27 459.42" stroke-opacity="0.8"/>
<path d="M432.21 466.33L433.48 467.88" stroke-opacity="0.8"/>
<path d="M422.07 474.21L423.25 475.82" stroke-opacity="0.8"/>
<path d="M411.53 481.55L412.63 483.22" stroke-opacity="0.8"/>
<path d="M400.63 488.34L402.35 491.27" stroke-width="0.7"/>
<path d="M389.39 494.55L390.31 496.32" stroke-opacity="0.8"/>
<path d="M377.84 500.17L378.67 501.99" stroke-opacity="0.8"/>
<path d="M366.02 505.18L366.75 507.04" stroke-opacity="0.8"/>
<path d="M353.95 509.58L354.59 511.47" stroke-opacity="0.8"/>
<path d="M342.34 513.15L343.26 516.42" stroke-width="0.7"/>
<path d="M329.89 516.31L330.34 518.26" stroke-opacity="0.8"/>
<path d="M317.3 518.81L317.64 520.78" stroke-opacity="0.8"/>
<path d="M304.59 520.66L304.83 522.65" stroke-opacity="0.8"/>
<path d="M291.8 521.85L291.94 523.84" stroke-opacity="0.8"/>
<path d="M278.97 522.37L279.02 525.77" stroke-width="0.7"/>
<path d="M266.13 522.23L266.06 524.23" stroke-opacity="0.8"/>
<path d="M253.32 521.42L253.14 523.41" stroke-opacity="0.8"/>
<path d="M233.83 518.9L233.26 522.26" stroke-width="0.7"/>
<path d="M221.23 516.42L220.8 518.38" stroke-opacity="0.8"/>
<path d="M208.78 513.3L208.24 515.22" stroke-opacity="0.8"/>
<path d="M196.5 509.53L195.87 511.42" stroke-opacity="0.8"/>
<path d="M184.44 505.13L183.71 506.99" stroke-opacity="0.8"/>
<path d="M172.62 500.11L171.21 503.2" stroke-width="0.7"/>
<path d="M161.08 494.48L160.15 496.25" stroke-opacity="0.8"/>
<path d="M149.84 488.26L148.83 489.99" stroke-opacity="0.8"/>
<path d="M138.94 481.47L137.84 483.14" stroke-opacity="0.8"/>
<path d="M128.41 474.12L127.22 475.73" stroke-opacity="0.8"/>
<path d="M115.9 464.27L113.71 466.87" stroke-width="0.7"/>
<path d="M106.29 455.75L104.93 457.21" stroke-opacity="0.8"/>
<path d="M97.14 446.74L95.7 448.13" stroke-opacity="0.8"/>
<path d="M88.46 437.27L86.95 438.59" stroke-opacity="0.8"/>
<path d="M80.29 427.37L78.72 428.6" stroke-opacity="0.8"/>
<path d="M72.64 417.05L69.86 419.01" stroke-width="0.7"/>
<path d="M65.54 406.35L63.85 407.42" stroke-opacity="0.8"/>
<path d="M59 395.3L57.25 396.28" stroke-opacity="0.8"/>
<path d="M53.04 383.93L51.25 384.81" stroke-opacity="0.8"/>
<path d="M48.1 373.22L44.98 374.57" stroke-width="0.7"/>
<path d="M43.3 361.31L41.43 362.01" stroke-opacity="0.8"/>
<path d="M39.13 349.17L37.22 349.77" stroke-opacity="0.8"/>
<path d="M35.59 336.82L33.66 337.32" stroke-opacity="0.8"/>
<path d="M32.7 324.31L30.74 324.71" stroke-opacity="0.8"/>
<path d="M30.46 311.66L27.1 312.17" stroke-width="0.7"/>
<path d="M28.88 298.92L26.89 299.12" stroke-opacity="0.8"/>
<path d="M27.96 286.11L25.96 286.2" stroke-opacity="0.8"/>
<path d="M27.7 273.27L25.7 273.26" stroke-opacity="0.8"/>
<path d="M28.12 260.44L26.12 260.32" stroke-opacity="0.8"/>
<path d="M29.19 247.64L25.81 247.27" stroke-width="0.7"/>
<path d="M32.05 228.57L28.71 227.93" stroke-width="0.7"/>
<path d="M34.78 216.02L32.84 215.54" stroke-opacity="0.8"/>
<path d="M38.15 203.63L36.23 203.05" stroke-opacity="0.8"/>
<path d="M42.16 191.43L40.28 190.75" stroke-opacity="0.8"/>
<path d="M46.79 179.45L44.95 178.68" stroke-opacity="0.8"/>
<path d="M52.05 167.73L48.98 166.26" stroke-width="0.7"/>
<path d="M57.66 156.73L54.68 155.11" stroke-width="0.7"/>
<path d="M64.08 145.61L62.37 144.56" stroke-opacity="0.8"/>
<path d="M71.06 134.83L69.41 133.7" stroke-opacity="0.8"/>
<path d="M78.59 124.43L77 123.21" stroke-opacity="0.8"/>
<path d="M89.04 111.67L86.48 109.43" stroke-width="0.7"/>
<path d="M97.74 102.23L96.31 100.84" stroke-opacity="0.8"/>
<path d="M106.93 93.26L105.57 91.79" stroke-opacity="0.8"/>
<path d="M116.57 84.77L115.29 83.24" stroke-opacity="0.8"/>
<path d="M126.64 76.8L125.43 75.2" stroke-opacity="0.8"/>
<path d="M139.86 67.53L138 64.68" stroke-width="0.7"/>
<path d="M150.79 60.78L149.79 59.05" stroke-opacity="0.8"/>
<path d="M162.06 54.61L161.14 52.84" stroke-opacity="0.8"/>
<path d="M173.62 49.04L172.8 47.22" stroke-opacity="0.8"/>
<path d="M191.55 41.79L190.4 38.59" stroke-width="0.7"/>
<path d="M203.75 37.76L203.17 35.85" stroke-opacity="0.8"/>
<path d="M216.13 34.37L215.65 32.43" stroke-opacity="0.8"/>
<path d="M228.68 31.63L228.3 29.67" stroke-opacity="0.8"/>
<path d="M241.35 29.54L241.07 27.56" stroke-opacity="0.8"/>
<path d="M254.11 28.11L253.82 24.72" stroke-width="0.7"/>
<path d="M266.93 27.34L266.86 25.34" stroke-opacity="0.8"/>
</g>
<g font-family="'Liberation Sans', sans-serif" font-size="6" fill="#111">
<text x="275.3" y="23.2" text-anchor="start" dominant-baseline="central" transform="rotate(-90 275.3 23.2)">0</text>
<text x="339.82" y="31.61" text-anchor="start" dominant-baseline="central" transform="rotate(-75.14 339.82 31.61)">25</text>
<text x="392.23" y="52.02" text-anchor="start" dominant-baseline="central" transform="rotate(-62.31 392.23 52.02)">0</text>
<text x="445.45" y="89.46" text-anchor="start" dominant-baseline="central" transform="rotate(-47.45 445.45 89.46)">25</text>
<text x="487.29" y="139.29" text-anchor="start" dominant-baseline="central" transform="rotate(-32.59 487.29 139.29)">50</text>
<text x="494.95" y="152.1" text-anchor="start" dominant-baseline="central" transform="rotate(-29.19 494.95 152.1)">0</text>
<text x="519.07" y="212.54" text-anchor="start" dominant-baseline="central" transform="rotate(-14.33 519.07 212.54)">25</text>
<text x="526.89" y="277.14" text-anchor="start" dominant-baseline="central" transform="rotate(0.53 526.89 277.14)">50</text>
<text x="522.18" y="323.32" text-anchor="start" dominant-baseline="central" transform="rotate(11.12 522.18 323.32)">0</text>
<text x="501.48" y="385.01" text-anchor="start" dominant-baseline="central" transform="rotate(25.98 501.48 385.01)">25</text>
<text x="465.65" y="439.33" text-anchor="start" dominant-baseline="central" transform="rotate(40.84 465.65 439.33)">50</text>
<text x="454.04" y="451.87" text-anchor="start" dominant-baseline="central" transform="rotate(44.73 454.04 451.87)">0</text>
<text x="402.65" y="491.79" text-anchor="start" dominant-baseline="central" transform="rotate(59.59 402.65 491.79)">25</text>
<text x="343.43" y="517" text-anchor="start" dominant-baseline="central" transform="rotate(74.29 343.43 517)">0</text>
<text x="279.03" y="526.37" text-anchor="start" dominant-baseline="central" transform="rotate(89.15 279.03 526.37)">25</text>
<text x="233.16" y="522.85" text-anchor="end" dominant-baseline="central" transform="rotate(279.64 233.16 522.85)">0</text>
<text x="170.96" y="503.75" text-anchor="end" dominant-baseline="central" transform="rotate(294.5 170.96 503.75)">25</text>
<text x="113.33" y="467.33" text-anchor="end" dominant-baseline="central" transform="rotate(310.07 113.33 467.33)">0</text>
<text x="69.37" y="419.35" text-anchor="end" dominant-baseline="central" transform="rotate(324.93 69.37 419.35)">25</text>
<text x="44.43" y="374.81" text-anchor="end" dominant-baseline="central" transform="rotate(336.58 44.43 374.81)">0</text>
<text x="26.5" y="312.26" text-anchor="end" dominant-baseline="central" transform="rotate(351.44 26.5 312.26)">25</text>
<text x="25.22" y="247.2" text-anchor="end" dominant-baseline="central" transform="rotate(366.3 25.22 247.2)">50</text>
<text x="28.12" y="227.82" text-anchor="end" dominant-baseline="central" transform="rotate(370.76 28.12 227.82)">0</text>
<text x="48.44" y="166" text-anchor="end" dominant-baseline="central" transform="rotate(385.62 48.44 166)">25</text>
<text x="54.15" y="154.82" text-anchor="end" dominant-baseline="central" transform="rotate(388.48 54.15 154.82)">0</text>
<text x="86.03" y="109.03" text-anchor="end" dominant-baseline="central" transform="rotate(401.21 86.03 109.03)">0</text>
<text x="137.68" y="64.18" text-anchor="end" dominant-baseline="central" transform="rotate(416.84 137.68 64.18)">0</text>
<text x="190.2" y="38.03" text-anchor="end" dominant-baseline="central" transform="rotate(430.23 190.2 38.03)">0</text>
<text x="253.77" y="24.12" text-anchor="end" dominant-baseline="central" transform="rotate(445.09 253.77 24.12)">25</text>
</g>
<g font-family="'Liberation Sans', sans-serif" font-size="11.5" fill="#111" text-anchor="middle">
<text x="335.5" y="14.16" dominant-baseline="central" textLength="13.2" lengthAdjust="spacingAndGlyphs" transform="rotate(13.01 335.5 14.16)">C1</text>
<text x="459.13" y="80.48" dominant-baseline="central" textLength="13.2" lengthAdjust="spacingAndGlyphs" transform="rotate(43.41 459.13 80.48)">C2</text>
<text x="538.84" y="228.92" dominant-baseline="central" textLength="13.2" lengthAdjust="spacingAndGlyphs" transform="rotate(80.12 538.84 228.92)">C3</text>
<text x="513.47" y="396.59" dominant-baseline="central" textLength="13.2" lengthAdjust="spacingAndGlyphs" transform="rotate(297.08 513.47 396.59)">C4</text>
<text x="414.39" y="503.29" dominant-baseline="central" textLength="13.2" lengthAdjust="spacingAndGlyphs" transform="rotate(328.67 414.39 503.29)">C5</text>
<text x="293.38" y="541.69" dominant-baseline="central" textLength="13.2" lengthAdjust="spacingAndGlyphs" transform="rotate(356.12 293.38 541.69)">C6</text>
<text x="166.43" y="519.14" dominant-baseline="central" textLength="13.2" lengthAdjust="spacingAndGlyphs" transform="rotate(384.02 166.43 519.14)">C7</text>
<text x="63.12" y="437.7" dominant-baseline="central" textLength="13.2" lengthAdjust="spacingAndGlyphs" transform="rotate(412.48 63.12 437.7)">C8</text>
<text x="9.89" y="308.2" dominant-baseline="central" textLength="13.2" lengthAdjust="spacingAndGlyphs" transform="rotate(442.83 9.89 308.2)">C9</text>
<text x="22.04" y="188.68" dominant-baseline="central" textLength="22.2" lengthAdjust="spacingAndGlyphs" transform="rotate(288.78 22.04 188.68)">Chr5</text>
<text x="53.55" y="125.2" dominant-baseline="central" textLength="22.2" lengthAdjust="spacingAndGlyphs" transform="rotate(304.01 53.55 125.2)">Chr4</text>
<text x="96.95" y="75.43" dominant-baseline="central" textLength="22.2" lengthAdjust="spacingAndGlyphs" transform="rotate(318.18 96.95 75.43)">Chr3</text>
<text x="152.58" y="37.11" dominant-baseline="central" textLength="22.2" lengthAdjust="spacingAndGlyphs" transform="rotate(332.69 152.58 37.11)">Chr2</text>
<text x="225.52" y="11.97" dominant-baseline="central" textLength="22.2" lengthAdjust="spacingAndGlyphs" transform="rotate(349.27 225.52 11.97)">Chr1</text>
</g>
<g font-family="'Liberation Sans', sans-serif" font-size="2.85" fill="#4a4a4a">
<text x="294.16" y="63.44" text-anchor="start" dominant-baseline="central" transform="rotate(-84.9 294.16 63.44)">Bo1g025790.1</text>
<text x="319.78" y="67.31" text-anchor="start" dominant-baseline="central" transform="rotate(-77.9 319.78 67.31)">Bo1g061090.1</text>
<text x="326.64" y="68.9" text-anchor="start" dominant-baseline="central" transform="rotate(-76 326.64 68.9)">Bo1g070720.1</text>
<text x="381.24" y="90.94" text-anchor="start" dominant-baseline="central" transform="rotate(-60.05 381.24 90.94)">Bo2g011392.1</text>
<text x="403.89" y="106" text-anchor="start" dominant-baseline="central" transform="rotate(-52.7 403.89 106)">Bo2g048499.1</text>
<text x="471.21" y="193.25" text-anchor="start" dominant-baseline="central" transform="rotate(-22.6 471.21 193.25)">Bo3g033329.1</text>
<text x="479.88" y="218.45" text-anchor="start" dominant-baseline="central" transform="rotate(-15.4 479.88 218.45)">Bo3g069599.1</text>
<text x="480.74" y="221.67" text-anchor="start" dominant-baseline="central" transform="rotate(-14.5 480.74 221.67)">Bo3g074181.1</text>
<text x="485.16" y="243.4" text-anchor="start" dominant-baseline="central" transform="rotate(-8.51 485.16 243.4)">Bo3g104504.1</text>
<text x="485.59" y="246.4" text-anchor="start" dominant-baseline="central" transform="rotate(-7.69 485.59 246.4)">Bo3g108452.1</text>
<text x="487.49" y="272.58" text-anchor="start" dominant-baseline="central" transform="rotate(-0.6 487.49 272.58)">Bo3g144367.1</text>
<text x="487.44" y="279.98" text-anchor="start" dominant-baseline="central" transform="rotate(1.4 487.44 279.98)">Bo3g154411.1</text>
<text x="481.64" y="324.34" text-anchor="start" dominant-baseline="central" transform="rotate(13.5 481.64 324.34)">Bo4g012022.1</text>
<text x="479.38" y="332.93" text-anchor="start" dominant-baseline="central" transform="rotate(15.9 479.38 332.93)">Bo4g024145.1</text>
<text x="478.44" y="336.13" text-anchor="start" dominant-baseline="central" transform="rotate(16.8 478.44 336.13)">Bo4g028738.1</text>
<text x="450.91" y="393.92" text-anchor="start" dominant-baseline="central" transform="rotate(34.15 450.91 393.92)">Bo4g116306.1</text>
<text x="437.14" y="412.05" text-anchor="start" dominant-baseline="central" transform="rotate(40.3 437.14 412.05)">Bo4g147297.1</text>
<text x="425.9" y="424.3" text-anchor="start" dominant-baseline="central" transform="rotate(44.79 425.9 424.3)">Bo5g000883.1</text>
<text x="423.74" y="426.44" text-anchor="start" dominant-baseline="central" transform="rotate(45.61 423.74 426.44)">Bo5g003891.1</text>
<text x="404.63" y="443.04" text-anchor="start" dominant-baseline="central" transform="rotate(52.45 404.63 443.04)">Bo5g039039.1</text>
<text x="361.61" y="468.65" text-anchor="start" dominant-baseline="central" transform="rotate(66 361.61 468.65)">Bo5g107409.1</text>
<text x="347.53" y="474.33" text-anchor="start" dominant-baseline="central" transform="rotate(70.1 347.53 474.33)">Bo5g128042.1</text>
<text x="344.39" y="475.44" text-anchor="start" dominant-baseline="central" transform="rotate(71 344.39 475.44)">Bo5g132675.1</text>
<text x="259.02" y="486.37" text-anchor="end" dominant-baseline="central" transform="rotate(274.4 259.02 486.37)">Bo6g101508.1</text>
<text x="226.12" y="481.22" text-anchor="end" dominant-baseline="central" transform="rotate(283.4 226.12 481.22)">Bo7g019002.1</text>
<text x="192.39" y="470.13" text-anchor="end" dominant-baseline="central" transform="rotate(293 192.39 470.13)">Bo7g067515.1</text>
<text x="134.41" y="433.48" text-anchor="end" dominant-baseline="central" transform="rotate(311.6 134.41 433.48)">Bo8g007703.1</text>
<text x="104.28" y="400.43" text-anchor="end" dominant-baseline="central" transform="rotate(323.7 104.28 400.43)">Bo8g068864.1</text>
<text x="101.26" y="396.21" text-anchor="end" dominant-baseline="central" transform="rotate(325.1 101.26 396.21)">Bo8g075930.1</text>
<text x="99.17" y="393.15" text-anchor="end" dominant-baseline="central" transform="rotate(326.1 99.17 393.15)">Bo8g080947.1</text>
<text x="92.84" y="383.14" text-anchor="end" dominant-baseline="central" transform="rotate(329.3 92.84 383.14)">Bo8g097038.1</text>
<text x="90.61" y="379.29" text-anchor="end" dominant-baseline="central" transform="rotate(330.5 90.61 379.29)">Bo8g103124.1</text>
<text x="75.52" y="346.33" text-anchor="end" dominant-baseline="central" transform="rotate(340.3 75.52 346.33)">Bo9g018786.1</text>
<text x="68.88" y="323.98" text-anchor="end" dominant-baseline="central" transform="rotate(346.6 68.88 323.98)">Bo9g050664.1</text>
<text x="64.01" y="255.2" text-anchor="end" dominant-baseline="central" transform="rotate(365.3 64.01 255.2)">Bo9g144986.1</text>
<text x="66.97" y="234.46" text-anchor="end" dominant-baseline="central" transform="rotate(370.96 66.97 234.46)">AT5G00790.1</text>
<text x="69.12" y="224.61" text-anchor="end" dominant-baseline="central" transform="rotate(373.68 69.12 224.61)">AT5G10990.1</text>
<text x="75.47" y="203.41" text-anchor="end" dominant-baseline="central" transform="rotate(379.66 75.47 203.41)">AT5G33320.1</text>
<text x="76.76" y="199.9" text-anchor="end" dominant-baseline="central" transform="rotate(380.67 76.76 199.9)">AT5G37160.1</text>
<text x="84.4" y="182.14" text-anchor="end" dominant-baseline="central" transform="rotate(385.89 84.4 182.14)">AT5G57030.1</text>
<text x="85.74" y="179.42" text-anchor="end" dominant-baseline="central" transform="rotate(386.71 85.74 179.42)">AT5G59300.1</text>
<text x="101.62" y="152.87" text-anchor="end" dominant-baseline="central" transform="rotate(395.07 101.62 152.87)">AT4G35870.1</text>
<text x="119.1" y="131.17" text-anchor="end" dominant-baseline="central" transform="rotate(402.6 119.1 131.17)">AT3G06000.1</text>
<text x="121.25" y="128.87" text-anchor="end" dominant-baseline="central" transform="rotate(403.45 121.25 128.87)">AT3G09640.1</text>
<text x="125.51" y="124.49" text-anchor="end" dominant-baseline="central" transform="rotate(405.1 125.51 124.49)">AT3G16760.1</text>
<text x="143.1" y="108.82" text-anchor="end" dominant-baseline="central" transform="rotate(411.46 143.1 108.82)">AT3G44580.1</text>
<text x="145.49" y="106.94" text-anchor="end" dominant-baseline="central" transform="rotate(412.28 145.49 106.94)">AT3G47680.1</text>
<text x="147.9" y="105.1" text-anchor="end" dominant-baseline="central" transform="rotate(413.1 147.9 105.1)">AT3G50810.1</text>
<text x="152.59" y="101.68" text-anchor="end" dominant-baseline="central" transform="rotate(414.67 152.59 101.68)">AT3G57920.1</text>
<text x="177.19" y="86.64" text-anchor="end" dominant-baseline="central" transform="rotate(422.46 177.19 86.64)">AT2G28810.1</text>
<text x="185.72" y="82.43" text-anchor="end" dominant-baseline="central" transform="rotate(425.03 185.72 82.43)">AT2G42570.1</text>
<text x="188.48" y="81.17" text-anchor="end" dominant-baseline="central" transform="rotate(425.85 188.48 81.17)">AT2G45690.1</text>
<text x="195.36" y="78.23" text-anchor="end" dominant-baseline="central" transform="rotate(427.87 195.36 78.23)">AT2G56610.1</text>
<text x="203" y="75.3" text-anchor="end" dominant-baseline="central" transform="rotate(430.08 203 75.3)">AT1G-0090.1</text>
<text x="205.86" y="74.28" text-anchor="end" dominant-baseline="central" transform="rotate(430.9 205.86 74.28)">AT1G01940.1</text>
<text x="218.46" y="70.35" text-anchor="end" dominant-baseline="central" transform="rotate(434.46 218.46 70.35)">AT1G14300.1</text>
<text x="221.39" y="69.56" text-anchor="end" dominant-baseline="central" transform="rotate(435.28 221.39 69.56)">AT1G16760.1</text>
<text x="224.34" y="68.81" text-anchor="end" dominant-baseline="central" transform="rotate(436.1 224.34 68.81)">AT1G19430.1</text>
<text x="242.98" y="65.08" text-anchor="end" dominant-baseline="central" transform="rotate(441.24 242.98 65.08)">AT1G36570.1</text>
<text x="257.91" y="63.31" text-anchor="end" dominant-baseline="central" transform="rotate(445.3 257.91 63.31)">AT1G50020.1</text>
<text x="264.93" y="62.85" text-anchor="end" dominant-baseline="central" transform="rotate(447.2 264.93 62.85)">AT1G56320.1</text>
</g>
<text x="8.5" y="24.9" font-family="'Liberation Serif', serif" font-size="25" fill="#000">B</text>
</svg>
</body></html>
